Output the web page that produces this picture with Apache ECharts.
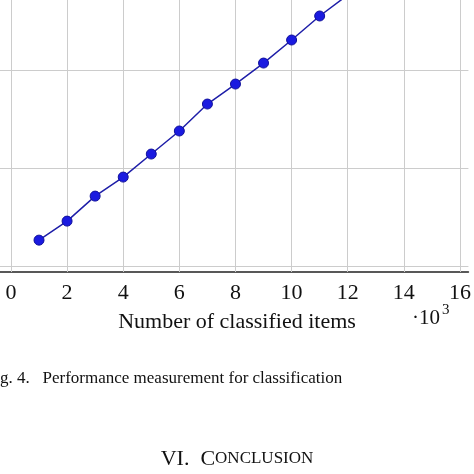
<!DOCTYPE html><html><head><meta charset="utf-8"><script src="https://cdn.jsdelivr.net/npm/echarts@6/dist/echarts.min.js"></script>
<style>body{margin:0;background:#fff}#c{width:474px;height:474px}</style></head><body><div id="c"></div><script>
const xs=[1,2,3,4,5,6,7,8,9,10,11,12];
const ys=[1.265,1.459,1.714,1.908,2.143,2.378,2.653,2.857,3.071,3.306,3.551,3.765];
const gridYs=[1,2,3];
const xTicks=[0,2,4,6,8,10,12,14,16];
const F='Liberation Serif';
const c=echarts.init(document.getElementById('c'));
c.setOption({animation:false,
grid:{left:0,right:5,top:0,bottom:202},
xAxis:{type:'value',min:-0.39,max:16.3,
 axisLine:{onZero:false,lineStyle:{color:'#222',width:1.5}},
 axisTick:{show:false},
 splitLine:{show:false},
 axisLabel:{fontFamily:F,fontSize:22,color:'#111',margin:10,customValues:xTicks}},
yAxis:{type:'value',min:0.94,max:3.714,axisLine:{show:false},axisTick:{show:false},axisLabel:{show:false},splitLine:{show:false}},
series:[{type:'line',data:xs.map((x,i)=>[x,ys[i]]),symbol:'circle',symbolSize:10,z:5,
 lineStyle:{color:'#1e1ea8',width:1.5},itemStyle:{color:'#1a1ae0',borderColor:'#10109a',borderWidth:1},
 markLine:{silent:true,symbol:'none',z:1,label:{show:false},lineStyle:{color:'#ccc',type:'solid',width:1},
  data:gridYs.map(v=>({yAxis:v})).concat(xTicks.map(v=>({xAxis:v})))}}],
graphic:[
 {type:'text',left:'center',top:311,style:{text:'Number of classified items',font:'22px "Liberation Serif"',fill:'#111'}},
 {type:'text',left:412,top:308,style:{text:'·10',font:'21px "Liberation Serif"',fill:'#111'}},
 {type:'text',left:442,top:303,style:{text:'3',font:'15px "Liberation Serif"',fill:'#111'}},
 {type:'text',left:0,top:370,style:{text:'g. 4.   Performance measurement for classification',font:'17px "Liberation Serif"',fill:'#111'}},
 {type:'text',left:'center',top:448,style:{text:'{a|VI.  C}{b|ONCLUSION}',rich:{a:{fontFamily:F,fontSize:22,fill:'#111'},b:{fontFamily:F,fontSize:17,fill:'#111'}}}}
]});
</script></body></html>
